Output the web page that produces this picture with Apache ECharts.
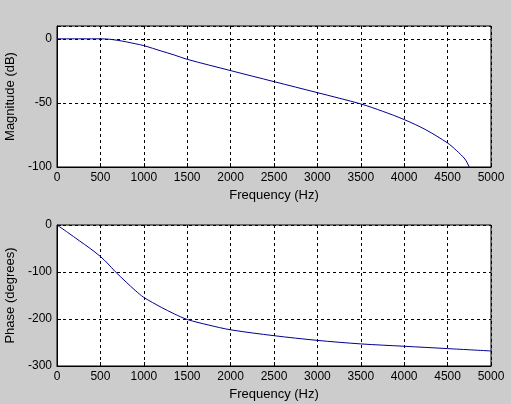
<!DOCTYPE html>
<html>
<head>
<meta charset="utf-8">
<script src="https://cdn.jsdelivr.net/npm/echarts@6/dist/echarts.min.js"></script>
<style>
html,body{margin:0;padding:0;background:#cccccc;}
#c{width:511px;height:404px;}
</style>
</head>
<body>
<div id="c"></div>
<script>
// Magnitude response (dB)
const magFreq = [0, 200, 400, 500, 600, 700, 800, 900, 1000, 1200, 1350, 1500, 2000, 2500, 3000, 3500, 3750, 4000, 4250, 4500, 4600, 4700, 4750, 4800];
const magDb   = [0, 0, 0, 0, -0.3, -1.2, -2.4, -3.8, -5.3, -9.5, -12.6, -16, -24.8, -33.4, -42, -50.8, -56.5, -63, -71, -81.3, -87, -93.8, -100, -106];
// Phase response (degrees)
const phFreq = [0, 125, 257, 375, 500, 590, 670, 800, 900, 1000, 1200, 1350, 1500, 1750, 2000, 2500, 3000, 3500, 4000, 4500, 5000];
const phDeg  = [0, -16, -33.5, -49, -67, -83, -99, -122, -139, -154, -175, -189, -201, -213, -223, -235.5, -245.5, -253, -258, -263, -268];
// Axis ranges / ticks
const freqRange = [0, 5000, 500];
const magRange = [-100, 10, 50];
const phRange = [-300, 0, 100];
const xTitle = 'Frequency (Hz)';
const magTitle = 'Magnitude (dB)';
const phTitle = 'Phase (degrees)';

const font = {fontFamily: 'Liberation Sans, Arial, sans-serif', fontSize: 12, color: '#000'};
const nameFont = {fontFamily: 'Liberation Sans, Arial, sans-serif', fontSize: 13, color: '#000'};
const dashed = {show: true, lineStyle: {color: '#000', type: [3, 3], width: 1}};

function tickFmt(r) {
  return v => ((v - r[0]) % r[2] === 0 ? String(v) : '');
}
function xAxis(idx) {
  return {
    type: 'value', gridIndex: idx, min: freqRange[0], max: freqRange[1], interval: freqRange[2],
    name: xTitle, nameLocation: 'middle', nameGap: 22,
    nameTextStyle: nameFont,
    axisLine: {show: true, onZero: false, lineStyle: {color: '#000'}},
    axisTick: {show: true, inside: true, length: 4, lineStyle: {color: '#000'}},
    axisLabel: Object.assign({margin: 5, formatter: tickFmt(freqRange)}, font),
    splitLine: dashed
  };
}
function yAxis(idx, r, title) {
  return {
    type: 'value', gridIndex: idx, min: r[0], max: r[1], interval: r[2],
    name: title, nameLocation: 'middle', nameGap: 37,
    nameTextStyle: nameFont,
    axisLine: {show: true, onZero: false, lineStyle: {color: '#000'}},
    axisTick: {show: true, inside: true, length: 4, lineStyle: {color: '#000'}},
    axisLabel: Object.assign({margin: 5, formatter: tickFmt(r)}, font),
    splitLine: dashed
  };
}

const chart = echarts.init(document.getElementById('c'), null, {renderer: 'canvas'});
chart.setOption({
  backgroundColor: '#cccccc',
  animation: false,
  grid: [
    {left: 57, right: 20, top: 26, height: 141, containLabel: false, outerBoundsMode: 'none', show: true, backgroundColor: '#fff', borderColor: '#000', borderWidth: 1},
    {left: 57, right: 20, top: 225, height: 141, containLabel: false, outerBoundsMode: 'none', show: true, backgroundColor: '#fff', borderColor: '#000', borderWidth: 1}
  ],
  xAxis: [xAxis(0), xAxis(1)],
  yAxis: [yAxis(0, magRange, magTitle), yAxis(1, phRange, phTitle)],
  series: [
    {type: 'line', xAxisIndex: 0, yAxisIndex: 0, showSymbol: false, smooth: 0.3, clip: true,
     lineStyle: {color: '#00008f', width: 1},
     data: magFreq.map((f, i) => [f, magDb[i]])},
    {type: 'line', xAxisIndex: 1, yAxisIndex: 1, showSymbol: false, smooth: 0.3, clip: true,
     lineStyle: {color: '#00008f', width: 1},
     data: phFreq.map((f, i) => [f, phDeg[i]])}
  ]
});
</script>
</body>
</html>
